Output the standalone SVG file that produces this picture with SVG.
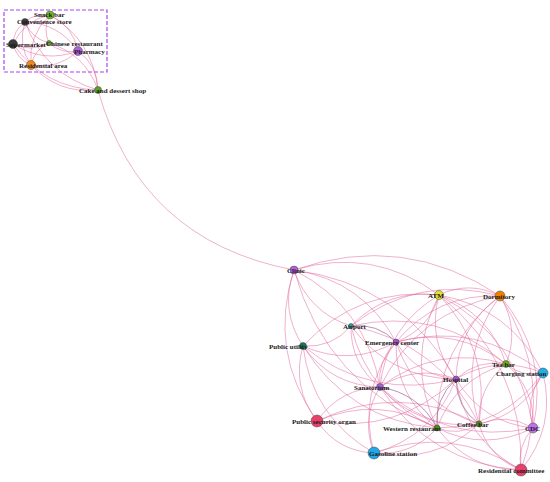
<svg xmlns="http://www.w3.org/2000/svg" width="550" height="482" viewBox="0 0 550 482">
<style>
.e{fill:none;stroke:#e0609a;stroke-opacity:0.62;stroke-width:0.8}
.d{fill:none;stroke:#7a3f78;stroke-opacity:0.7;stroke-width:0.8}
.n{stroke:#444;stroke-width:0.5}
text{font-family:"Liberation Serif","Times New Roman",serif;font-size:7px;font-weight:bold;fill:#1a1a1a}
</style>
<rect width="550" height="482" fill="#ffffff"/>
<rect x="4" y="10" width="103" height="62" fill="none" stroke="#a845f0" stroke-width="1.2" stroke-dasharray="4 2"/>
<g id="connectors">
<path class="e" d="M50 15Q35.8 12.3 25 22"/>
<path class="e" d="M50 15Q24.3 20.3 13 44"/>
<path class="e" d="M13 44Q31.3 52.5 49 43"/>
<path class="e" d="M50 15Q42.5 28.8 49 43"/>
<path class="e" d="M78 51Q73 26 50 15"/>
<path class="e" d="M50 15Q28 35.3 31 65"/>
<path class="e" d="M25 22Q13.5 30 13 44"/>
<path class="e" d="M25 22Q31.8 38.5 49 43"/>
<path class="e" d="M78 51Q58.8 23.3 25 22"/>
<path class="e" d="M25 22Q17.3 45 31 65"/>
<path class="e" d="M13 44Q43.8 63.8 78 51"/>
<path class="e" d="M13 44Q16.8 59 31 65"/>
<path class="e" d="M49 43Q61.5 54.3 78 51"/>
<path class="e" d="M49 43Q34.5 49.5 31 65"/>
<path class="e" d="M31 65Q58 69.8 78 51"/>
<path class="e" d="M13 44Q44 88.3 98 90"/>
<path class="e" d="M31 65Q58.3 94.3 98 90"/>
<path class="e" d="M25 22Q44.5 74.3 98 90"/>
<path class="e" d="M98 90Q92.8 40.5 50 15"/>
<path class="e" d="M98 90Q85.3 54.3 49 43"/>
<path class="e" d="M98 90Q97.8 65.5 78 51"/>
<path class="e" d="M98 90Q140 241 294 270"/>
<path class="e" d="M439 295Q372.8 246.3 294 270"/>
<path class="e" d="M294 270Q308.5 312.3 351 326"/>
<path class="e" d="M396 342Q363 280.5 294 270"/>
<path class="e" d="M380 387Q366.3 307 294 270"/>
<path class="e" d="M294 270Q279.5 310.3 303 346"/>
<path class="e" d="M294 270Q267.8 351.3 317 421"/>
<path class="e" d="M456 379Q402.3 284 294 270"/>
<path class="e" d="M294 270Q326 384.8 437 428"/>
<path class="e" d="M500 296Q403.5 231.5 294 270"/>
<path class="e" d="M439 295Q387.3 288.5 351 326"/>
<path class="e" d="M500 296Q418 273.8 351 326"/>
<path class="d" d="M396 342Q377.5 322.8 351 326"/>
<path class="e" d="M351 326Q390.3 378.8 456 379"/>
<path class="e" d="M351 326Q350.3 363.8 380 387"/>
<path class="e" d="M351 326Q368.5 398.5 437 428"/>
<path class="e" d="M479 424Q439.5 343 351 326"/>
<path class="e" d="M303 346Q332 348 351 326"/>
<path class="e" d="M506 364Q438 306.3 351 326"/>
<path class="e" d="M303 346Q350.5 367.3 396 342"/>
<path class="e" d="M303 346Q331.3 385.8 380 387"/>
<path class="e" d="M303 346Q371.3 400.8 456 379"/>
<path class="e" d="M303 346Q349.5 420.5 437 428"/>
<path class="e" d="M303 346Q291.3 387 317 421"/>
<path class="e" d="M303 346Q311.8 417.3 374 453"/>
<path class="e" d="M439 295Q358.3 286.5 303 346"/>
<path class="e" d="M396 342Q429.3 329.3 439 295"/>
<path class="e" d="M396 342Q376.8 360.5 380 387"/>
<path class="e" d="M396 342Q416.8 375.5 456 379"/>
<path class="e" d="M396 342Q395 395.3 437 428"/>
<path class="e" d="M396 342Q417 403.8 479 424"/>
<path class="e" d="M506 364Q456.5 325.5 396 342"/>
<path class="e" d="M543 373Q477.3 320.8 396 342"/>
<path class="e" d="M500 296Q436.5 293 396 342"/>
<path class="e" d="M396 342Q357.3 392 374 453"/>
<path class="e" d="M500 296Q469.3 280.3 439 295"/>
<path class="e" d="M439 295Q426.5 341.3 456 379"/>
<path class="e" d="M439 295Q386.5 326.3 380 387"/>
<path class="e" d="M439 295Q404.8 361 437 428"/>
<path class="e" d="M479 424Q491.3 349.5 439 295"/>
<path class="e" d="M506 364Q489.8 312.8 439 295"/>
<path class="e" d="M543 373Q510.5 308 439 295"/>
<path class="e" d="M533 428Q519.3 338 439 295"/>
<path class="e" d="M521 470Q523.8 362 439 295"/>
<path class="e" d="M500 296Q457.3 326.5 456 379"/>
<path class="e" d="M500 296Q435.5 346.3 437 428"/>
<path class="e" d="M500 296Q417.3 311.5 380 387"/>
<path class="e" d="M506 364Q520 328.5 500 296"/>
<path class="e" d="M500 296Q457.5 354.8 479 424"/>
<path class="e" d="M533 428Q549.5 353.8 500 296"/>
<path class="e" d="M506 364Q522.3 377.8 543 373"/>
<path class="e" d="M506 364Q477.3 359 456 379"/>
<path class="e" d="M506 364Q455.5 378.8 437 428"/>
<path class="e" d="M506 364Q477.5 387.3 479 424"/>
<path class="e" d="M533 428Q535.5 389.3 506 364"/>
<path class="e" d="M506 364Q437.3 344 380 387"/>
<path class="e" d="M543 373Q498 354.3 456 379"/>
<path class="e" d="M437 428Q503.8 427 543 373"/>
<path class="e" d="M479 424Q523.8 414.5 543 373"/>
<path class="e" d="M543 373Q524.3 398 533 428"/>
<path class="e" d="M521 470Q556.3 427 543 373"/>
<path class="e" d="M456 379Q416 364 380 387"/>
<path class="d" d="M456 379Q434.3 398.8 437 428"/>
<path class="d" d="M456 379Q456.3 407.3 479 424"/>
<path class="e" d="M456 379Q482.3 422.8 533 428"/>
<path class="e" d="M374 453Q433.5 436.5 456 379"/>
<path class="e" d="M456 379Q465.8 440.8 521 470"/>
<path class="e" d="M317 421Q397 434.8 456 379"/>
<path class="d" d="M437 428Q418.8 393.3 380 387"/>
<path class="e" d="M380 387Q340 388.3 317 421"/>
<path class="e" d="M380 387Q360.5 418.5 374 453"/>
<path class="e" d="M380 387Q420.3 430.3 479 424"/>
<path class="e" d="M380 387Q446.3 445.8 533 428"/>
<path class="e" d="M380 387Q429.8 463.8 521 470"/>
<path class="e" d="M437 428Q378.8 394.5 317 421"/>
<path class="e" d="M317 421Q337.5 451.3 374 453"/>
<path class="e" d="M479 424Q398.8 382 317 421"/>
<path class="e" d="M437 428Q459 436.5 479 424"/>
<path class="e" d="M374 453Q411.8 456.3 437 428"/>
<path class="e" d="M437 428Q485 452 533 428"/>
<path class="e" d="M437 428Q468.5 470 521 470"/>
<path class="e" d="M533 428Q507 412.5 479 424"/>
<path class="e" d="M479 424Q488.5 457.5 521 470"/>
<path class="e" d="M374 453Q433.8 464.8 479 424"/>
<path class="e" d="M533 428Q516.5 446 521 470"/>
<path class="e" d="M521 470Q451.8 424.8 374 453"/>
<path class="e" d="M521 470Q554 377.8 500 296"/>
</g>
<g id="snack-bar"><circle class="n" cx="50" cy="15" r="4" fill="#6cc01c"/><text x="34" y="17">Snack bar</text></g>
<g id="convenience-store"><circle class="n" cx="25" cy="22" r="3.5" fill="#3a3a3a"/><text x="17" y="24">Convenience store</text></g>
<g id="supermarket"><circle class="n" cx="13" cy="44" r="4.5" fill="#3a3a3a"/><text x="6" y="46.5">Supermarket</text></g>
<g id="chinese-restaurant"><circle class="n" cx="49" cy="43" r="2.5" fill="#5aa520"/><text x="46" y="45.5">Chinese restaurant</text></g>
<g id="pharmacy"><circle class="n" cx="78" cy="51" r="4.5" fill="#b45ee0"/><text x="74" y="53.5">Pharmacy</text></g>
<g id="residential-area"><circle class="n" cx="31" cy="65" r="4.5" fill="#f08a10"/><text x="19" y="67.5">Residential area</text></g>
<g id="cake-and-dessert-shop"><circle class="n" cx="98" cy="90" r="3.5" fill="#5aa520"/><text x="79" y="92.5">Cake and dessert shop</text></g>
<g id="clinic"><circle class="n" cx="294" cy="270" r="4" fill="#b060e0"/><text x="287" y="272.5">Clinic</text></g>
<g id="airport"><circle class="n" cx="351" cy="326" r="2.5" fill="#20a0a0"/><text x="343" y="328.5">Airport</text></g>
<g id="public-utility"><circle class="n" cx="303" cy="346" r="3.5" fill="#107a5a"/><text x="269" y="348.5">Public utility</text></g>
<g id="emergency-center"><circle class="n" cx="396" cy="342" r="3" fill="#a050d0"/><text x="365" y="344.5">Emergency center</text></g>
<g id="atm"><circle class="n" cx="439" cy="295" r="4.5" fill="#e8e030"/><text x="428" y="297.5">ATM</text></g>
<g id="dormitory"><circle class="n" cx="500" cy="296" r="5" fill="#f08000"/><text x="483" y="298.5">Dormitory</text></g>
<g id="tea-bar"><circle class="n" cx="506" cy="364" r="3.5" fill="#6aaa10"/><text x="492" y="366.5">Tea bar</text></g>
<g id="charging-station"><circle class="n" cx="543" cy="373" r="5" fill="#20b0e8"/><text x="496" y="375.5">Charging station</text></g>
<g id="hospital"><circle class="n" cx="456" cy="379" r="3" fill="#a050d0"/><text x="443" y="381.5">Hospital</text></g>
<g id="sanatorium"><circle class="n" cx="380" cy="387" r="3.5" fill="#a860d8"/><text x="354" y="389.5">Sanatorium</text></g>
<g id="public-security-organ"><circle class="n" cx="317" cy="421" r="6" fill="#e8406a"/><text x="292" y="423.5">Public security organ</text></g>
<g id="western-restaurant"><circle class="n" cx="437" cy="428" r="3" fill="#4a8a10"/><text x="383" y="430.5">Western restaurant</text></g>
<g id="coffee-bar"><circle class="n" cx="479" cy="424" r="3" fill="#4a8a10"/><text x="457" y="426.5">Coffee bar</text></g>
<g id="cdc"><circle class="n" cx="533" cy="428" r="5" fill="#c070f0"/><text x="525" y="430.5">CDC</text></g>
<g id="gasoline-station"><circle class="n" cx="374" cy="453" r="6" fill="#20a8e8"/><text x="369" y="455.5">Gasoline station</text></g>
<g id="residential-committee"><circle class="n" cx="521" cy="470" r="6" fill="#e8406a"/><text x="478" y="472.5">Residential committee</text></g>
</svg>
